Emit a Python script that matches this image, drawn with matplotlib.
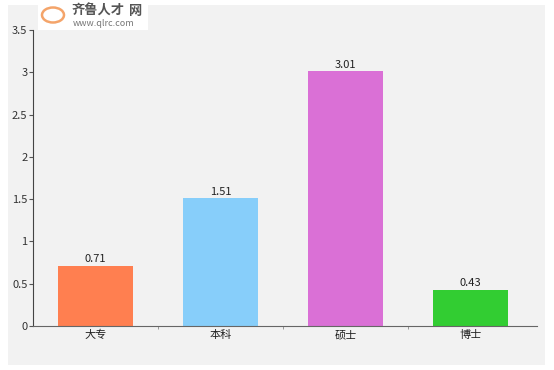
import matplotlib
matplotlib.use("Agg")
import matplotlib.pyplot as plt
from matplotlib.patches import Rectangle, Ellipse

plt.rcParams['font.family'] = ['Noto Sans CJK SC', 'DejaVu Sans']

categories = ['大专', '本科', '硕士', '博士']
values = [0.71, 1.51, 3.01, 0.43]
colors = ['#FF7F50', '#87CEFA', '#DA70D6', '#32CD32']
yticks = [0, 0.5, 1, 1.5, 2, 2.5, 3, 3.5]
ytick_labels = ['0', '0.5', '1', '1.5', '2', '2.5', '3', '3.5']

fig = plt.figure(figsize=(5.54, 3.70), dpi=100)
fig.patch.set_facecolor('white')
# gray panel
fig.patches.append(Rectangle((8/554, 5/370), 537/554, 360/370, transform=fig.transFigure,
                             facecolor='#f2f2f2', edgecolor='none', zorder=-10))

ax = fig.add_axes([33/554, 44/370, 504/554, 296/370])
ax.set_zorder(1)
ax.set_facecolor('none')
x = range(len(categories))
bars = ax.bar(x, values, width=0.6, color=colors, zorder=2)
for xi, v in zip(x, values):
    ax.text(xi, v + 0.02, f'{v:.2f}', ha='center', va='bottom', fontsize=8, color='#222222')

ax.set_xlim(-0.5, 3.53)
ax.set_ylim(0, 3.5)
ax.set_yticks(yticks)
ax.set_yticklabels(ytick_labels, fontsize=8, color='#333333')
ax.set_xticks(list(x))
ax.set_xticklabels(categories, fontsize=8, color='#222222')
ax.tick_params(axis='x', which='major', length=0, pad=3)
ax.set_xticks([0.5, 1.5, 2.5], minor=True)
ax.tick_params(axis='x', which='minor', length=2, color='#888888')
ax.tick_params(axis='y', length=3, color='#555555', pad=1)
for s in ['top', 'right']:
    ax.spines[s].set_visible(False)
ax.spines['left'].set_color('#444444')
ax.spines['bottom'].set_color('#666666')
ax.spines['left'].set_linewidth(0.8)
ax.spines['bottom'].set_linewidth(0.8)

# logo
fig.patches.append(Rectangle((38/554, 1 - 30/370), 110/554, 28/370, transform=fig.transFigure,
                             facecolor='white', edgecolor='none', zorder=3))
fig.patches.append(Ellipse((53/554, 1 - 15/370), 22/554, 15/370, transform=fig.transFigure,
                           facecolor='none', edgecolor='#F4A46A', linewidth=1.8, zorder=4))
fig.text(72/554, 1 - 11/370, '齐鲁人才', fontsize=9.5, fontweight='bold', color='#555555', va='center', ha='left', zorder=5)
fig.text(129/554, 1 - 11/370, '网', fontsize=9.5, fontweight='bold', color='#555555', va='center', ha='left', zorder=5)
fig.text(73/554, 1 - 23/370, 'www.qlrc.com', fontsize=6.5, color='#777777', va='center', ha='left', zorder=5)

fig.savefig('out.png', dpi=100)
